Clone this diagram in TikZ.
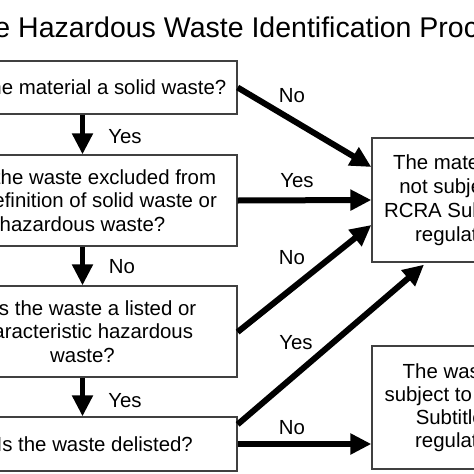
\documentclass[tikz,border=0pt]{standalone}
\usepackage{fontspec}
\setmainfont{Liberation Sans}
\usetikzlibrary{arrows.meta}
\begin{document}
\begin{tikzpicture}[x=1pt,y=-1pt,
  box/.style={draw=black!75, line width=1.3pt, fill=white, inner sep=0pt, align=center,
    font=\fontsize{20.4}{23.5}\selectfont},
  flow/.style={line width=6pt, -{Triangle[length=21pt,width=20pt]}},
  lbl/.style={inner sep=0pt, font=\fontsize{20.4}{23.5}\selectfont}]
\useasboundingbox (0,0) rectangle (474,474);
\clip (0,0) rectangle (474,474);
\fill[white] (0,0) rectangle (474,474);
\node[anchor=base west, inner sep=0pt, font=\fontsize{28.5}{30}\selectfont] (title) at (-39,37)
  {The Hazardous Waste Identification Process};
\node[box, minimum width=309pt, minimum height=53pt] (q1) at (82.5,87.5)
  {1. Is the material a solid waste?};
\node[box, minimum width=309pt, minimum height=91pt] (q2) at (82.5,200.5)
  {2. Is the waste excluded from\\ the definition of solid waste or\\ hazardous waste?};
\node[box, minimum width=309pt, minimum height=91pt] (q3) at (82.5,331.5)
  {3. Is the waste a listed or\\ characteristic hazardous\\ waste?};
\node[box, minimum width=309pt, minimum height=54pt] (q4) at (82.5,444)
  {4. Is the waste delisted?};
\node[box, minimum width=176pt, minimum height=124pt, font=\fontsize{20.4}{24}\selectfont] (ra) at (460,200)
  {The material is\\ not subject to\\ RCRA Subtitle C\\ regulation};
\node[box, minimum width=176pt, minimum height=123pt, font=\fontsize{20.4}{23}\selectfont] (rb) at (460,407.5)
  {The waste is\\ subject to RCRA\\ Subtitle C\\ regulation};
% vertical arrows
\draw[flow, line width=5pt] (q1.south) -- (q2.north);
\draw[flow, line width=5pt] (q2.south) -- (q3.north);
\draw[flow, line width=5pt] (q3.south) -- (q4.north);
% arrows to the right
\draw[flow] (q1.east) -- ([yshift=33pt]ra.west);
\draw[flow] (q2.east) -- (ra.west);
\draw[flow] ([yshift=-0.5pt]q3.east) -- ([yshift=-25pt]ra.west);
\draw[flow] ([yshift=-8pt]q4.north east) -- ([xshift=-36pt,yshift=-2pt]ra.south);
\draw[flow] (q4.east) -- ([yshift=-36.5pt]rb.west);
% labels
\node[lbl] (l1) at (125,137) {Yes};
\node[lbl] (l2) at (122,267) {No};
\node[lbl] (l3) at (125,401) {Yes};
\node[lbl] (l4) at (292,96) {No};
\node[lbl] (l5) at (297,181) {Yes};
\node[lbl] (l6) at (292,258) {No};
\node[lbl] (l7) at (296,343) {Yes};
\node[lbl] (l8) at (292,428) {No};
\end{tikzpicture}
\end{document}
